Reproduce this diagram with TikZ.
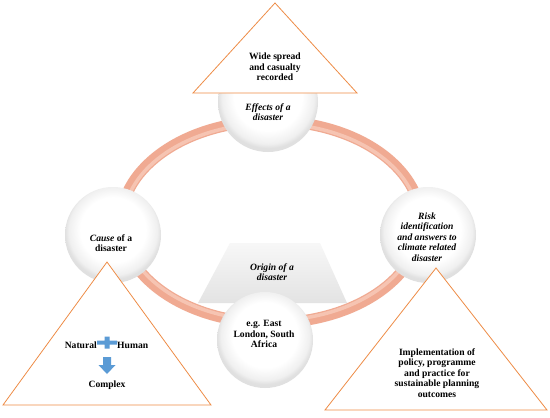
\documentclass[tikz,border=0pt]{standalone}
\usepackage{fontspec}
\setmainfont{Liberation Serif}
\usetikzlibrary{shapes.geometric}
\definecolor{tri}{RGB}{238,140,70}
\definecolor{ringdark}{RGB}{240,170,146}
\definecolor{ringlight}{RGB}{246,196,178}
\definecolor{iconblue}{RGB}{91,155,213}
\pgfdeclareradialshading{ballshade}{\pgfpoint{0bp}{4bp}}{color(0bp)=(white); color(17bp)=(white); color(23bp)=(gray!12); color(25bp)=(gray!24); color(50bp)=(gray!24)}
\tikzset{
  ball/.style={circle, minimum size=#1, inner sep=0pt, shading=ballshade},
  tribox/.style={draw=tri, line width=0.8pt, fill=white, line join=miter},
  txt/.style={align=center, font=\fontsize{9.6}{10.4}\selectfont\bfseries, inner sep=0pt},
  itxt/.style={txt, font=\fontsize{9.6}{10.4}\selectfont\bfseries\itshape},
}
\begin{document}
\begin{tikzpicture}[x=1pt, y=-1pt]
\useasboundingbox (0,0) rectangle (550,418);
\fill[white] (0,0) rectangle (550,418);
% ring
\draw[ringdark, line width=11pt] (271,222) ellipse [x radius=150, y radius=101];
\draw[ringlight, line width=3.5pt] (271,222) ellipse [x radius=147.5, y radius=98.5];
% origin trapezoid
\shade[top color=gray!6, bottom color=gray!22] (230,243) -- (320,243) -- (347,303) -- (198,303) -- cycle;
% circles
\node[ball=100pt] (effc) at (268,102) {};
\node[ball=96pt] (causec) at (113,235) {};
\node[ball=96pt] (riskc) at (428,235) {};
\node[ball=96pt] (origc) at (265,340) {};
% triangles
\draw[tribox] (275,3) -- (357,93) -- (193,93) -- cycle;
\draw[tribox] (107,262) -- (211,405) -- (3,405) -- cycle;
\draw[tribox] (436,268) -- (547,410) -- (325,410) -- cycle;
% texts
\node[txt] (wide) at (275,67) {Wide spread\\and casualty\\recorded};
\node[itxt] (eff) at (268,112) {Effects of a\\disaster};
\node[txt] (cause) at (111,243) {\textit{Cause} of a\\disaster};
\node[itxt] (risk) at (427,237) {Risk\\identification\\and answers to\\climate related\\disaster};
\node[itxt] (orig) at (272,272) {Origin of a\\disaster};
\node[txt] (eg) at (264,334) {e.g. East\\London, South\\Africa};
\node[txt] (impl) at (437,373) {Implementation of\\policy, programme\\and practice for\\sustainable planning\\outcomes};
% left triangle contents
\fill[iconblue] (97,340.5) -- (104.5,340.5) -- (104.5,336.5) -- (109.5,336.5) -- (109.5,340.5) -- (117,340.5) -- (117,344.5) -- (109.5,344.5) -- (109.5,348.5) -- (104.5,348.5) -- (104.5,344.5) -- (97,344.5) -- cycle;
\node[txt, anchor=east] (nat) at (97,345) {Natural};
\node[txt, anchor=west] (hum) at (117,345) {Human};
\fill[iconblue] (103,357) -- (111,357) -- (111,365) -- (115.5,365) -- (107,374) -- (98.5,365) -- (103,365) -- cycle;
\node[txt] (comp) at (107,385) {Complex};
\end{tikzpicture}
\end{document}
